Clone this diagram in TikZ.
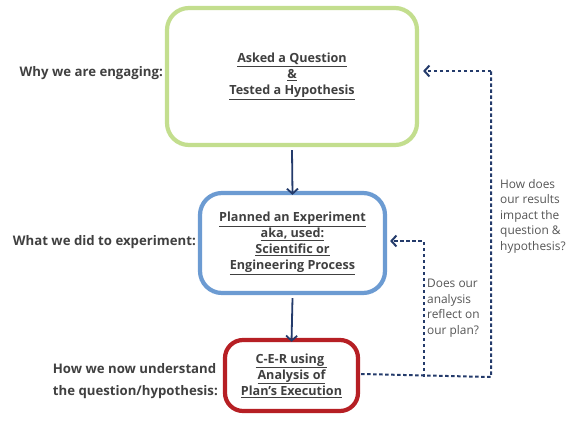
\documentclass[tikz,border=0pt]{standalone}
\usepackage{fontspec}
\setmainfont{Open Sans}
\usetikzlibrary{arrows.meta,positioning}
\definecolor{cgreen}{HTML}{C3DE8E}
\definecolor{cblue}{HTML}{6C9BD2}
\definecolor{cred}{HTML}{B61F24}
\definecolor{cnavy}{HTML}{243B6B}
\definecolor{ctext}{HTML}{404040}
\definecolor{cgray}{HTML}{555555}
\tikzset{
  stagebox/.style={rounded corners=22pt, line width=4.2pt, fill=white, text=ctext,
    align=center, font=\bfseries\fontsize{12.6}{16}\selectfont, inner sep=0pt},
  sidelabel/.style={text=ctext, font=\bfseries\fontsize{13.2}{22}\selectfont, align=left, inner sep=0pt},
  qlabel/.style={text=cgray, font=\fontsize{11.9}{15.5}\selectfont, align=left, inner sep=0pt, anchor=north west},
  flowarrow/.style={draw=cnavy, line width=1.8pt, -{Straight Barb[length=5pt,width=11pt]}},
  feedback/.style={draw=cnavy, line width=2pt, dash pattern=on 3.5pt off 2.5pt, -{Straight Barb[length=5pt,width=11pt]}},
  feedline/.style={draw=cnavy, line width=2pt, dash pattern=on 3.5pt off 2.5pt}
}
\begin{document}
\begin{tikzpicture}[x=1pt,y=-1pt]
\useasboundingbox (0,0) rectangle (575,423);
\node[stagebox, draw=cgreen, minimum width=250pt, minimum height=137pt] (green) at (292,76.5)
  {\underline{Asked a Question}\\\underline{\&}\\\underline{Tested a Hypothesis}};
\node[stagebox, draw=cblue, minimum width=185pt, minimum height=100pt] (blue) at (292.5,243)
  {\underline{Planned an Experiment}\\\underline{aka, used:}\\\underline{Scientific or}\\\underline{Engineering Process}};
\node[stagebox, draw=cred, minimum width=133pt, minimum height=71pt, rounded corners=18pt] (red) at (291.5,375.5)
  {\underline{C-E-R using\ }\\\underline{Analysis of}\\\underline{Plan’s Execution}};

\node[sidelabel, anchor=east] (l1) at (163,73) {Why we are engaging:};
\node[sidelabel, anchor=east] (l2) at (196,242) {What we did to experiment:};
\node[sidelabel, anchor=east] (l3) at (218,381) {How we now understand\\the question/hypothesis:};

\draw[flowarrow] (green.south) ++(0,3) -- ([yshift=-4pt]blue.north);
\draw[flowarrow] (blue.south) ++(0,3) -- ([yshift=-4pt]red.north);

\coordinate (jin) at (423.5,377);
\coordinate (jout) at (491,377);
\coordinate (tout) at (491,71);
\coordinate (tin) at (423.5,241);
\draw[feedline] ([xshift=1pt,yshift=1.5pt]red.east) -- (jout) -- (tout);
\draw[feedback] (tout) -- ([xshift=4pt]green.east |- tout);
\draw[feedback] (jin) -- (tin) -- ([xshift=3pt]blue.east |- tin);

\node[qlabel] (q1) at (500,179) {How does\\our results\\impact the\\question \&\\hypothesis?};
\node[qlabel] (q2) at (427,279) {Does our\\analysis\\reflect on\\our plan?};
\end{tikzpicture}
\end{document}
